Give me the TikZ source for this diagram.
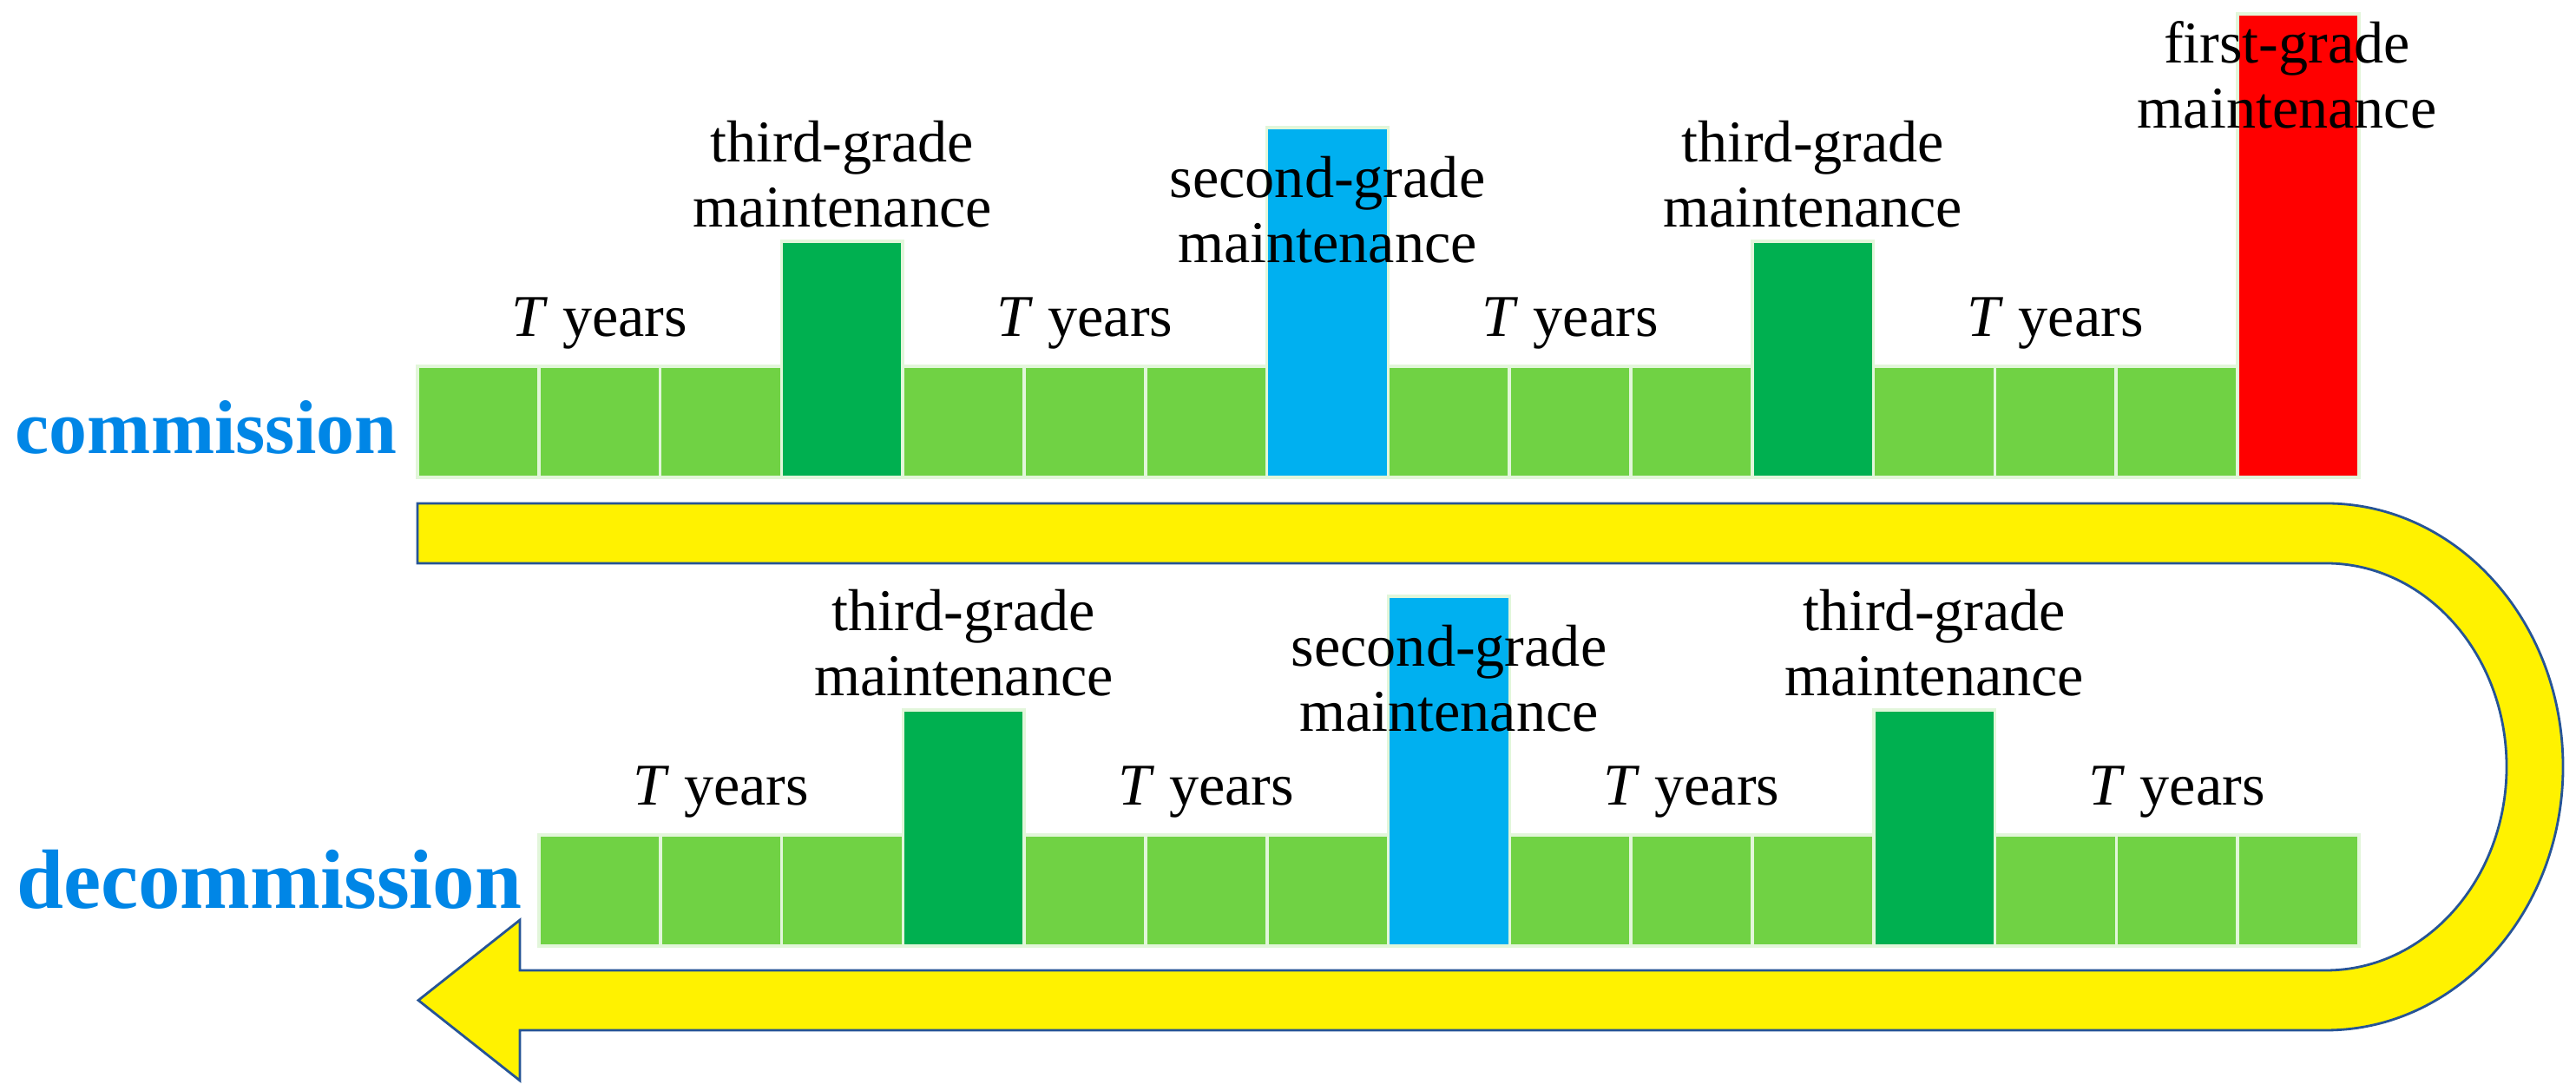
\documentclass[tikz,border=0pt]{standalone}
\usepackage{fontspec}
\setmainfont{Liberation Serif}
\definecolor{cellgreen}{RGB}{112,210,68}
\definecolor{darkgreen}{RGB}{0,176,80}
\definecolor{lightblue}{RGB}{0,176,240}
\definecolor{textblue}{RGB}{0,134,230}
\definecolor{edgeblue}{RGB}{38,84,150}

\begin{document}
\begin{tikzpicture}[
    cell/.style={draw=white!80!cellgreen, line width=1pt, anchor=south west, inner sep=0pt, outer sep=0pt, minimum width=1.398cm, minimum height=1.28cm},
    yearbox/.style={cell, fill=cellgreen},
    thirdbox/.style={cell, fill=darkgreen, minimum height=2.72cm},
    secondbox/.style={cell, fill=lightblue, minimum height=4.03cm},
    firstbox/.style={cell, fill=red, minimum height=5.34cm},
    label/.style={font=\fontsize{19.4}{21.6}\selectfont, align=center, anchor=base, inner sep=0pt},
    stage/.style={font=\bfseries\fontsize{25}{27}\selectfont, text=textblue, anchor=base east, inner sep=0pt}
]
    \useasboundingbox (0,0) rectangle (29.68,12.57);

    \draw[fill=yellow, draw=edgeblue, line width=0.8pt, line join=miter] (4.81,6.77)--(26.80,6.77)
        arc[start angle=90, end angle=-90, x radius=2.73, y radius=3.035]
        --(5.99,0.70)--(5.99,0.12)--(4.82,1.045)--(5.99,1.97)--(5.99,1.39)--(26.80,1.39)
        arc[start angle=-90, end angle=90, x radius=2.08, y radius=2.345]
        --(4.81,6.08)--cycle;

    \node[yearbox] (t1) at (4.810,7.07) {};
    \node[yearbox] (t2) at (6.208,7.07) {};
    \node[yearbox] (t3) at (7.606,7.07) {};
    \node[thirdbox] (t4) at (9.004,7.07) {};
    \node[yearbox] (t5) at (10.402,7.07) {};
    \node[yearbox] (t6) at (11.800,7.07) {};
    \node[yearbox] (t7) at (13.198,7.07) {};
    \node[secondbox] (t8) at (14.596,7.07) {};
    \node[yearbox] (t9) at (15.994,7.07) {};
    \node[yearbox] (t10) at (17.392,7.07) {};
    \node[yearbox] (t11) at (18.790,7.07) {};
    \node[thirdbox] (t12) at (20.188,7.07) {};
    \node[yearbox] (t13) at (21.586,7.07) {};
    \node[yearbox] (t14) at (22.984,7.07) {};
    \node[yearbox] (t15) at (24.382,7.07) {};
    \node[firstbox] (t16) at (25.780,7.07) {};

    \node[yearbox] (b1) at (6.210,1.67) {};
    \node[yearbox] (b2) at (7.608,1.67) {};
    \node[yearbox] (b3) at (9.006,1.67) {};
    \node[thirdbox] (b4) at (10.404,1.67) {};
    \node[yearbox] (b5) at (11.802,1.67) {};
    \node[yearbox] (b6) at (13.200,1.67) {};
    \node[yearbox] (b7) at (14.598,1.67) {};
    \node[secondbox] (b8) at (15.996,1.67) {};
    \node[yearbox] (b9) at (17.394,1.67) {};
    \node[yearbox] (b10) at (18.792,1.67) {};
    \node[yearbox] (b11) at (20.190,1.67) {};
    \node[thirdbox] (b12) at (21.588,1.67) {};
    \node[yearbox] (b13) at (22.986,1.67) {};
    \node[yearbox] (b14) at (24.384,1.67) {};
    \node[yearbox] (b15) at (25.782,1.67) {};

    \node[stage] (commission) at (4.58,7.34) {commission};
    \node[stage, font=\bfseries\fontsize{27.6}{30}\selectfont] (decommission) at (6.02,2.10) {decommission};

    \node[label] (ty1) at (6.907,8.69) {\textit{T} years};
    \node[label] (ty2) at (12.499,8.69) {\textit{T} years};
    \node[label] (ty3) at (18.091,8.69) {\textit{T} years};
    \node[label] (ty4) at (23.683,8.69) {\textit{T} years};
    \node[label] (tm1) at (9.703,9.95) {third-grade\\maintenance};
    \node[label] (tm2) at (15.295,9.54) {second-grade\\maintenance};
    \node[label] (tm3) at (20.887,9.95) {third-grade\\maintenance};
    \node[label] (tm4) at (26.35,11.09) {first-grade\\maintenance};

    \node[label] (by1) at (8.305,3.29) {\textit{T} years};
    \node[label] (by2) at (13.897,3.29) {\textit{T} years};
    \node[label] (by3) at (19.489,3.29) {\textit{T} years};
    \node[label] (by4) at (25.081,3.29) {\textit{T} years};
    \node[label] (bm1) at (11.103,4.55) {third-grade\\maintenance};
    \node[label] (bm2) at (16.695,4.14) {second-grade\\maintenance};
    \node[label] (bm3) at (22.287,4.55) {third-grade\\maintenance};
\end{tikzpicture}
\end{document}
